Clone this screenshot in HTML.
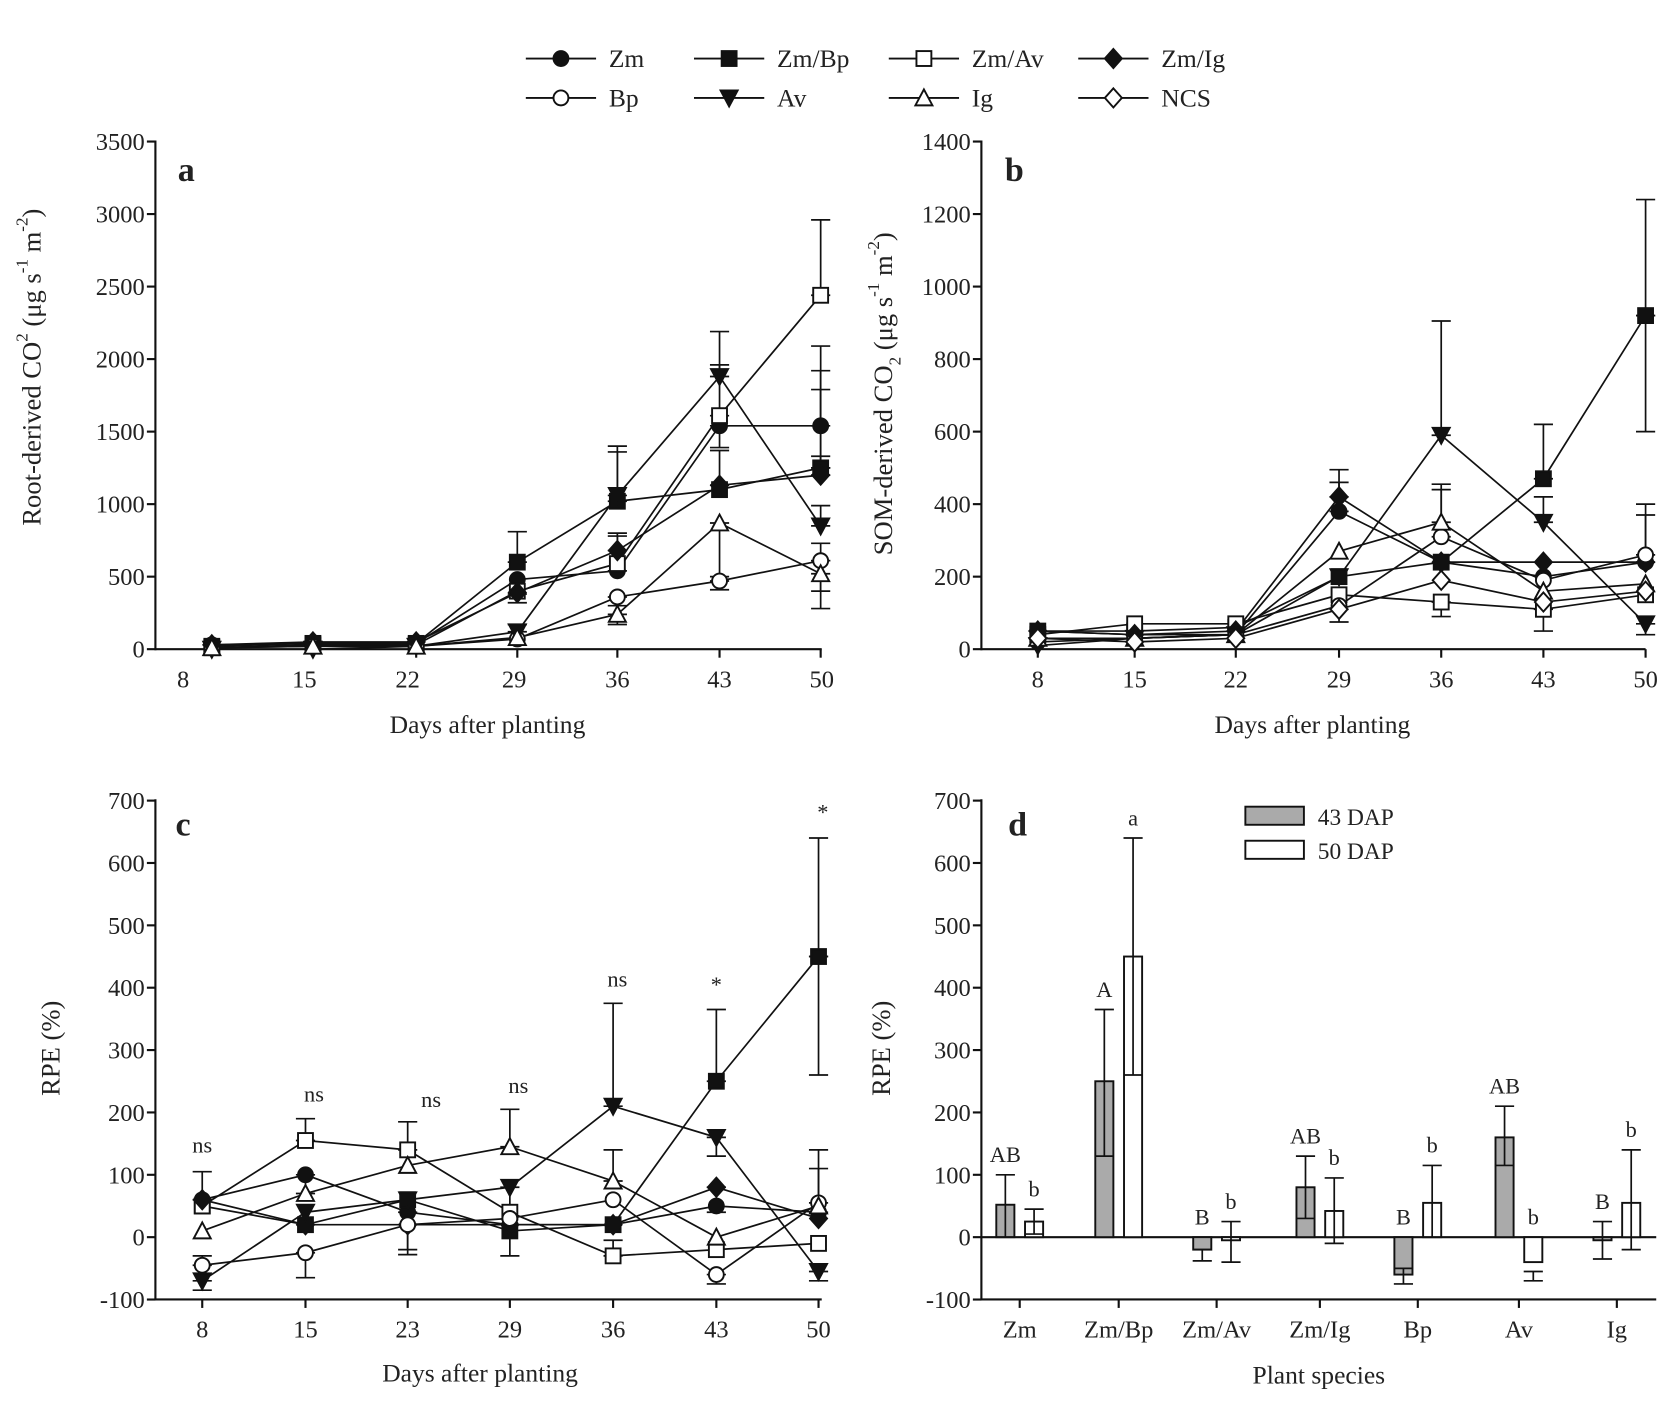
<!DOCTYPE html>
<html><head><meta charset="utf-8"><style>body{margin:0;background:#fff}svg{display:block}text{font-family:"Liberation Serif",serif;fill:#222}</style></head>
<body>
<svg id="s" width="1669" height="1425" viewBox="0 0 1568 1339" preserveAspectRatio="none" xmlns="http://www.w3.org/2000/svg"></svg>
<script>
const S=document.getElementById('s');let h='';
const L=(x1,y1,x2,y2,w)=>h+=`<line x1="${x1}" y1="${y1}" x2="${x2}" y2="${y2}" stroke="#111" stroke-width="${w||2}"/>`;
const T=(x,y,t,o)=>{o=o||{};h+=`<text x="${x}" y="${y}" font-size="${o.fs||23}" text-anchor="${o.a||'middle'}" ${o.b?'font-weight="bold"':''} ${o.r?`transform="rotate(-90 ${x} ${y})"`:''}>${t}</text>`};
function M(type,x,y){const f=type.f?'#111':'#fff';const r=7;
 if(type.m=='c')h+=`<circle cx="${x}" cy="${y}" r="${r}" fill="${f}" stroke="#111" stroke-width="1.8"/>`;
 if(type.m=='s')h+=`<rect x="${x-r}" y="${y-r}" width="${2*r}" height="${2*r}" fill="${f}" stroke="#111" stroke-width="1.8"/>`;
 if(type.m=='d')h+=`<polygon points="${x},${y-9} ${x+8},${y} ${x},${y+9} ${x-8},${y}" fill="${f}" stroke="#111" stroke-width="1.8"/>`;
 if(type.m=='v')h+=`<polygon points="${x-8},${y-7} ${x+8},${y-7} ${x},${y+8}" fill="${f}" stroke="#111" stroke-width="1.8"/>`;
 if(type.m=='t')h+=`<polygon points="${x-8},${y+7} ${x+8},${y+7} ${x},${y-8}" fill="${f}" stroke="#111" stroke-width="1.8"/>`;}
const TY={Zm:{m:'c',f:1},ZmBp:{m:'s',f:1},ZmAv:{m:'s',f:0},ZmIg:{m:'d',f:1},Bp:{m:'c',f:0},Av:{m:'v',f:1},Ig:{m:'t',f:0},NCS:{m:'d',f:0}};
// legend
[[527,55,'Zm','Zm'],[685,55,'ZmBp','Zm/Bp'],[868,55,'ZmAv','Zm/Av'],[1046,55,'ZmIg','Zm/Ig'],[527,92,'Bp','Bp'],[685,92,'Av','Av'],[868,92,'Ig','Ig'],[1046,92,'NCS','NCS']].forEach(([x,y,k,t])=>{L(x-33,y,x+33,y,1.8);M(TY[k],x,y);T(x+45,y+8,t,{a:'start',fs:24});});
function axes(x0,x1,y0,y1,yt,fy,xs,xl,lx){L(x0,y1-1,x0,y0+1);L(x0,y0,x1,y0);
 yt.forEach(v=>{const y=fy(v);L(x0-8,y,x0,y);T(x0-10,y+8,v,{a:'end'});});
 xs.forEach((x,i)=>{L(x,y0,x,y0+8);T(lx?lx[i]:x,y0+36,xl[i]);});}
function series(xs,fy,data,err){for(const k in data){const d=data[k];let p=d.map((v,i)=>xs[i]+','+fy(v)).join(' ');h+=`<polyline points="${p}" fill="none" stroke="#111" stroke-width="1.6"/>`;}
 (err||[]).forEach(([i,a,b])=>{const x=xs[i];L(x,fy(a),x,fy(b),1.6);L(x-9,fy(a),x+9,fy(a),1.6);L(x-9,fy(b),x+9,fy(b),1.6);});
 for(const k in data)data[k].forEach((v,i)=>M(TY[k],xs[i],fy(v)));}
// panel a
let fa=v=>610-v*477/3500,xa=[199,294,391,486,580,676,771];
axes(146,772,610,133,[0,500,1000,1500,2000,2500,3000,3500],fa,xa,['8','15','22','29','36','43','50'],[172,286,383,483,580,676,772]);
series(xa,fa,{Zm:[30,40,40,480,540,1540,1540],ZmBp:[20,40,40,600,1020,1100,1250],ZmAv:[10,30,30,400,590,1610,2440],ZmIg:[30,50,50,390,680,1130,1200],Bp:[10,20,20,70,360,470,610],Av:[0,0,20,120,1060,1880,850],Ig:[10,20,20,80,240,870,520]},
[[3,600,810],[3,380,320],[3,120,170],[4,1060,1400],[4,1020,1360],[4,680,800],[4,540,780],[4,360,300],[4,240,170],[5,1880,2190],[5,1610,1960],[5,1540,1390],[5,1130,1370],[5,870,500],[5,470,410],[6,2440,2960],[6,1540,2090],[6,1250,1920],[6,1200,1790],[6,1250,1330],[6,850,990],[6,610,400],[6,520,280],[6,610,730]]);
T(175,170,'a',{b:1,fs:32});
T(38,345,'Root-derived CO<tspan font-size="16" dy="-12">2</tspan><tspan dy="12"> (μg s</tspan><tspan font-size="16" dy="-12">-1</tspan><tspan dy="12"> m</tspan><tspan font-size="16" dy="-12">-2</tspan><tspan dy="12">)</tspan>',{r:1,fs:25});
T(458,689,'Days after planting',{fs:24});
// panel b
let fb=v=>610-v*477/1400,xb=[975,1066,1161,1258,1354,1450,1546];
axes(922,1546,610,133,[0,200,400,600,800,1000,1200,1400],fb,xb,['8','15','22','29','36','43','50']);
series(xb,fb,{Zm:[50,40,40,380,240,200,240],ZmBp:[50,50,60,200,240,470,920],ZmAv:[40,70,70,150,130,110,150],ZmIg:[50,40,50,420,240,240,240],Bp:[20,30,40,120,310,190,260],Av:[10,30,40,200,590,350,70],Ig:[30,30,40,270,350,160,180],NCS:[30,20,30,110,190,130,160]},
[[3,420,495],[3,380,460],[3,110,75],[4,590,905],[4,350,455],[4,310,440],[4,130,90],[5,470,620],[5,350,420],[5,110,50],[6,920,1240],[6,920,600],[6,260,400],[6,240,370],[6,70,40]]);
T(953,170,'b',{b:1,fs:32});
T(838,370,'SOM-derived CO<tspan font-size="16" dy="8">2</tspan><tspan dy="-8"> (μg s</tspan><tspan font-size="16" dy="-12">-1</tspan><tspan dy="12"> m</tspan><tspan font-size="16" dy="-12">-2</tspan><tspan dy="12">)</tspan>',{r:1,fs:25});
T(1233,689,'Days after planting',{fs:24});
// panel c
let fc=v=>1162.5-v*0.586,xc=[190,287,383,479,576,673,769];
axes(146,772,1221,752,[-100,0,100,200,300,400,500,600,700],fc,xc,['8','15','23','29','36','43','50']);
series(xc,fc,{Zm:[60,100,40,20,20,50,40],ZmBp:[50,20,60,10,20,250,450],ZmAv:[50,155,140,40,-30,-20,-10],ZmIg:[60,20,20,20,20,80,30],Bp:[-45,-25,20,30,60,-60,55],Av:[-70,40,60,80,210,160,-55],Ig:[10,70,115,145,90,0,50]},
[[0,60,105],[0,-70,-85],[0,-45,-30],[1,155,190],[1,-25,-65],[1,100,70],[2,140,185],[2,40,-20],[2,20,-28],[3,145,205],[3,80,-30],[4,210,375],[4,90,140],[4,-30,-5],[5,250,365],[5,160,130],[5,-60,-75],[5,80,40],[6,450,640],[6,450,260],[6,55,140],[6,-55,-70],[6,40,110]]);
T(172,785,'c',{b:1,fs:32});
T(56,985,'RPE (%)',{r:1,fs:25});T(451,1298,'Days after planting',{fs:24});
[[190,1083,'ns'],[295,1035,'ns'],[405,1040,'ns'],[487,1027,'ns'],[580,927,'ns'],[673,932,'*'],[773,770,'*']].forEach(a=>T(a[0],a[1],a[2],{fs:21}));
// panel d
axes(922,1556,1221,752,[-100,0,100,200,300,400,500,600,700],fc,[958,1051,1143,1240,1332,1427,1519],['Zm','Zm/Bp','Zm/Av','Zm/Ig','Bp','Av','Ig']);
L(922,fc(0),1556,fc(0));
const bars=[[958,52,0,100,25,5,45,'AB','b'],[1051,250,130,365,450,260,640,'A','a'],[1143,-20,-38,-20,-5,-40,25,'B','b'],[1240,80,30,130,42,-10,95,'AB','b'],[1332,-60,-75,-50,55,0,115,'B','b'],[1427,160,115,210,-40,-70,-55,'AB','b'],[1519,-5,-35,25,55,-20,140,'B','b']];
bars.forEach(([x,g,gl,gh,w,wl,wh,A,b])=>{
 const gx=x-22,wx=x+5,bw=17;
 h+=`<rect x="${gx}" y="${Math.min(fc(g),fc(0))}" width="${bw}" height="${Math.abs(fc(g)-fc(0))}" fill="#aaa" stroke="#111" stroke-width="1.8"/>`;
 h+=`<rect x="${wx}" y="${Math.min(fc(w),fc(0))}" width="${bw}" height="${Math.abs(fc(w)-fc(0))}" fill="#fff" stroke="#111" stroke-width="1.8"/>`;
 [[gx+bw/2,gl,gh],[wx+bw/2,wl,wh]].forEach(([cx,a,c])=>{L(cx,fc(a),cx,fc(c),1.6);L(cx-9,fc(a),cx+9,fc(a),1.6);L(cx-9,fc(c),cx+9,fc(c),1.6);});
 T(gx+bw/2,fc(Math.max(gh,0))-12,A,{fs:21});T(wx+bw/2,fc(Math.max(wh,0))-12,b,{fs:21});});
h+=`<rect x="1170" y="758" width="55" height="17" fill="#aaa" stroke="#111" stroke-width="1.8"/><rect x="1170" y="790" width="55" height="17" fill="#fff" stroke="#111" stroke-width="1.8"/>`;
T(1238,775,'43 DAP',{a:'start',fs:22});T(1238,807,'50 DAP',{a:'start',fs:22});
T(956,785,'d',{b:1,fs:32});
T(836,985,'RPE (%)',{r:1,fs:25});T(1239,1300,'Plant species',{fs:24});
S.innerHTML=h;
</script>
</body></html>
